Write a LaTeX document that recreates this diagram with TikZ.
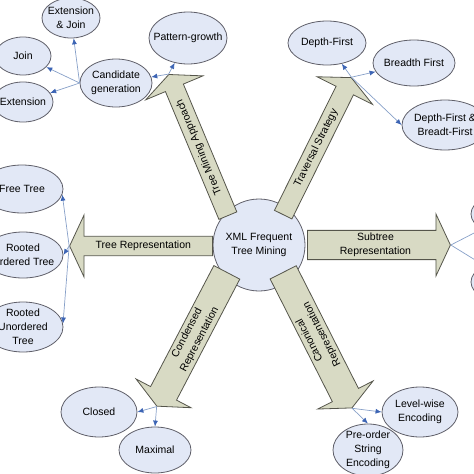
\documentclass[tikz,border=0pt]{standalone}
\usepackage{fontspec}
\setmainfont{Liberation Sans}
\usetikzlibrary{shapes.geometric, shapes.arrows, arrows.meta}
\definecolor{bandfill}{RGB}{216,218,196}
\definecolor{bandedge}{RGB}{85,85,75}
\definecolor{bubblefill}{RGB}{226,232,246}
\definecolor{bubbleedge}{RGB}{95,95,105}
\definecolor{linkline}{RGB}{135,160,200}
\definecolor{linktip}{RGB}{60,100,180}

\begin{document}
\begin{tikzpicture}[x=1pt, y=-1pt,
        font=\fontsize{10.5}{14}\selectfont,
        bubble/.style={ellipse, draw=bubbleedge, fill=bubblefill, line width=0.8pt, inner sep=0pt},
        hub/.style={circle, draw=bubbleedge, fill=bubblefill, line width=0.8pt, minimum size=92pt, inner sep=1pt, align=center},
        band/.style={single arrow, draw=bandedge, fill=bandfill, line width=0.8pt, minimum width=62pt, single arrow head extend=16pt, single arrow tip angle=130, inner sep=2pt, align=center, anchor=tail},
        link/.style={draw=linkline, line width=0.7pt, -{Latex[length=6pt, width=5pt, color=linktip]}}]

        \useasboundingbox (0, 0) rectangle (474, 474);
        \clip (0, 0) rectangle (474, 474);

        \draw (259, 245) node[hub] (X) {XML Frequent\\Tree Mining};

        \draw (228, 216) node[band, rotate=112.7, minimum height=153pt] (TM) {Tree Mining Approach};
        \draw (283, 215) node[band, rotate=63.6, minimum height=153pt] (TS) {Traversal Strategy};
        \draw (213, 246) node[band, shape border rotate=180, minimum height=143pt] (TR) {Tree Representation};
        \draw (307, 245) node[band, minimum height=143pt] (SR) {Subtree\\Representation};
        \draw (227, 272) node[band, rotate=62.4, shape border rotate=180, minimum height=151pt] (CR) {Condensed\\Representation};
        \draw (283, 272) node[band, rotate=116.9, shape border rotate=180, minimum height=152pt] (CN) {Canonical\\Representation};

        \draw (71, 18) node[bubble, minimum width=58pt, minimum height=40pt, label={[align=center]center:{Extension\\\& Join}}] (EJ) {};
        \draw (23, 56) node[bubble, minimum width=56pt, minimum height=38pt, label=center:Join] (J) {};
        \draw (23, 102) node[bubble, minimum width=60pt, minimum height=40pt, label=center:Extension] (E) {};
        \draw (116, 83) node[bubble, minimum width=72pt, minimum height=48pt, label={[align=center]center:{Candidate\\generation}}] (CG) {};
        \draw (188, 38) node[bubble, minimum width=78pt, minimum height=52pt, label=center:Pattern-growth] (PG) {};
        \draw (327, 43) node[bubble, minimum width=78pt, minimum height=44pt, label=center:Depth-First] (DF) {};
        \draw (414, 63) node[bubble, minimum width=82pt, minimum height=46pt, label=center:Breadth First] (BF) {};
        \draw (445, 125) node[bubble, minimum width=86pt, minimum height=50pt, label={[align=center]center:{Depth-First \&\\Breadt-First}}] (DB) {};
        \draw (22, 189) node[bubble, minimum width=82pt, minimum height=48pt, label=center:Free Tree] (FT) {};
        \draw (23, 255) node[bubble, minimum width=80pt, minimum height=46pt, label={[align=center]center:{Rooted\\Ordered Tree}}] (RO) {};
        \draw (23, 327) node[bubble, minimum width=80pt, minimum height=50pt, label={[align=center]center:{Rooted\\Unordered\\Tree}}] (RU) {};
        \draw (99, 412) node[bubble, minimum width=76pt, minimum height=50pt, label=center:Closed] (CL) {};
        \draw (155, 450) node[bubble, minimum width=72pt, minimum height=46pt, label=center:Maximal] (MX) {};
        \draw (420, 412) node[bubble, minimum width=76pt, minimum height=50pt, label={[align=center]center:{Level-wise\\Encoding}}] (LW) {};
        \draw (368, 450) node[bubble, minimum width=70pt, minimum height=52pt, label={[align=center]center:{Pre-order\\String\\Encoding}}] (PO) {};
        \draw (511, 214) node[bubble, minimum width=80pt, minimum height=44pt] (R1) {};
        \draw (511, 282) node[bubble, minimum width=80pt, minimum height=44pt] (R2) {};

        \draw[link] (TM.tip) -- (CG);
        \draw[link] (TM.tip) -- (PG);
        \draw[link] (CG.west) -- (EJ);
        \draw[link] (CG.west) -- (J);
        \draw[link] (CG.west) -- (E);
        \draw[link] (TS.tip) -- (DF);
        \draw[link] (TS.tip) -- (BF);
        \draw[link] (TS.tip) -- (DB.west);
        \draw[link] (TR.tip) -- (FT.-8);
        \draw[link] (TR.tip) -- (RO.east);
        \draw[link] (TR.tip) -- (RU.5);
        \draw[link] (SR.tip) -- (R1);
        \draw[link] (SR.tip) -- (R2);
        \draw[link] (CR.tip) -- (CL.east);
        \draw[link] (CR.tip) -- (MX.north);
        \draw[link] (CN.tip) -- (LW.west);
        \draw[link] (CN.tip) -- (PO.north);
\end{tikzpicture}
\end{document}
